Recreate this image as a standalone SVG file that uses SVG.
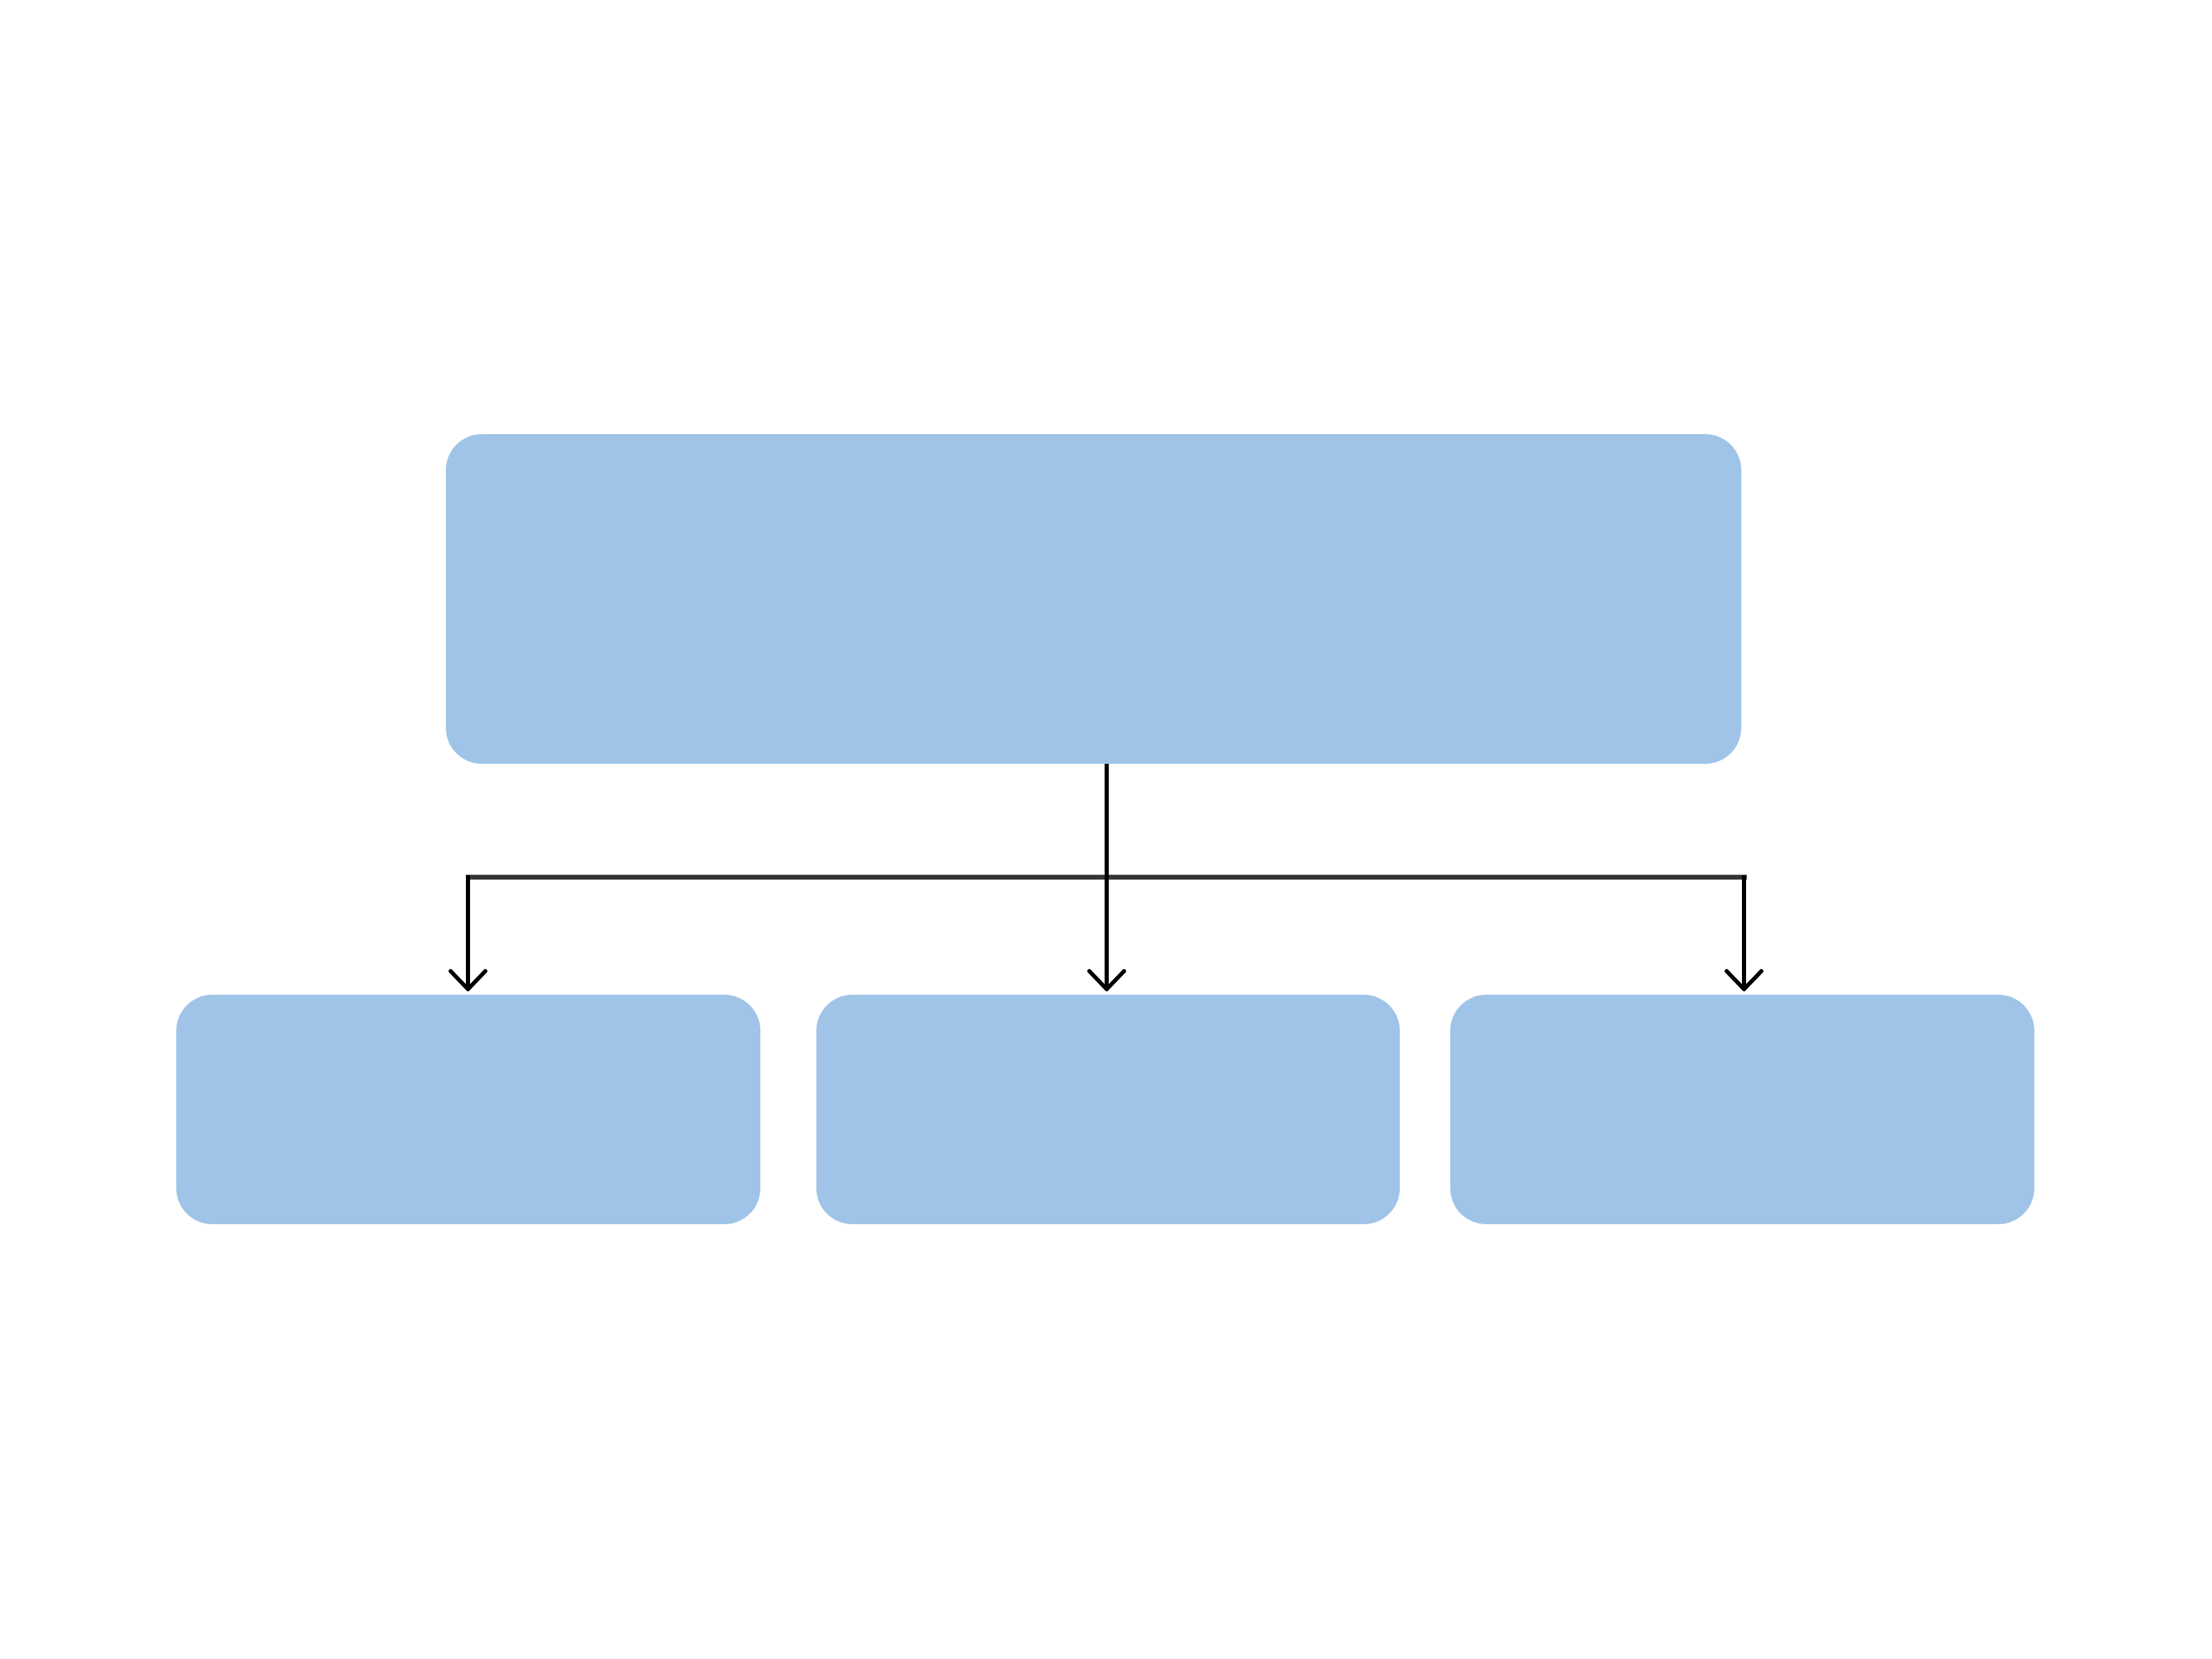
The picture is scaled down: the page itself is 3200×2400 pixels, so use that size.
<svg xmlns="http://www.w3.org/2000/svg" width="3200" height="2400" viewBox="0 0 3200 2400">
<style>
.node{fill:#9FC4E8;stroke:none}
.bus{fill:none;stroke:#333333;stroke-width:7}
.stem{fill:none;stroke:#000000;stroke-width:6}
.head{fill:none;stroke:#000000;stroke-width:6;stroke-linecap:round;stroke-linejoin:round}
</style>
<rect width="3200" height="2400" fill="#FFFFFF"/>
<g id="connectors">
<path class="bus" d="M674 1269 H2527"/>
<path class="stem" d="M1601 1105 V1430"/>
<path class="stem" d="M677 1266 V1430"/>
<path class="stem" d="M2523 1266 V1430"/>
<path class="head" d="M652 1405 L677 1431 L702 1405"/>
<path class="head" d="M1576 1405 L1601 1431 L1626 1405"/>
<path class="head" d="M2498 1405 L2523 1431 L2548 1405"/>
</g>
<g id="top"><rect class="node" x="645" y="628" width="1874" height="477" rx="52"/></g>
<g id="left"><rect class="node" x="255" y="1439" width="845" height="332" rx="52"/></g>
<g id="middle"><rect class="node" x="1181" y="1439" width="844" height="332" rx="52"/></g>
<g id="right"><rect class="node" x="2098" y="1439" width="845" height="332" rx="52"/></g>
</svg>
